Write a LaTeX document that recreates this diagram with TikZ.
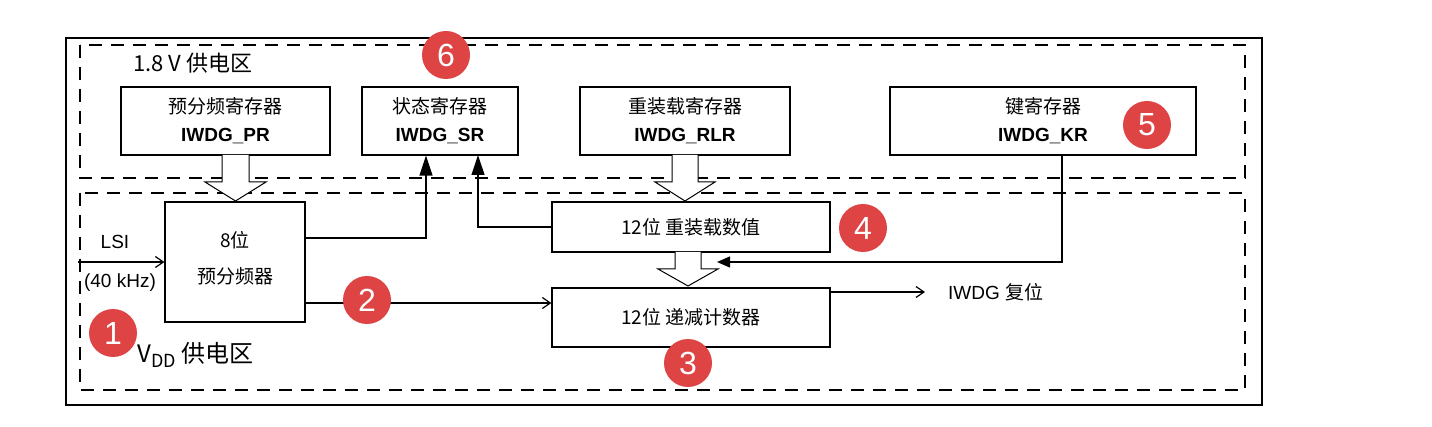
\documentclass[tikz,border=0pt]{standalone}
\usepackage{fontspec}
\setmainfont{Liberation Sans}
\newfontfamily\cjk{Noto Sans CJK SC}
\usetikzlibrary{arrows.meta}
\definecolor{badge}{RGB}{222,68,68}
\begin{document}
\begin{tikzpicture}[x=1pt,y=-1pt,
  box/.style={draw,line width=1.2pt,inner sep=0pt},
  dsh/.style={draw,line width=1.3pt,dash pattern=on 13pt off 9pt},
  lbl/.style={font=\fontsize{19}{21}\selectfont\cjk,align=center,inner sep=0pt},
  bl/.style={lbl,font=\fontsize{19}{21}\selectfont\bfseries},
  num/.style={circle,fill=badge,minimum size=48pt,inner sep=0pt,text=white,font=\fontsize{32}{32}\selectfont},
  hol/.style={draw,line width=1pt,fill=white},
  con/.style={line width=1.2pt},
  fa/.style={-{Triangle[length=20pt,width=13pt]}},
  oa/.style={-{Straight Barb[length=8pt,width=11pt]}}]
\useasboundingbox (0,0) rectangle (1432,427);
\draw[line width=1.2pt] (66,38) rectangle (1262,405);
\draw[dsh] (80,45) rectangle (1245,178);
\draw[dsh] (80,193) rectangle (1245,390);
\node[lbl,anchor=west,font=\fontsize{22}{24}\selectfont\cjk] (t18) at (133,63) {1.8 V 供电区};
\node[lbl,anchor=west] (tvdd) at (137,355) {\fontsize{24}{24}\selectfont V\raisebox{-5pt}{\fontsize{18}{18}\selectfont DD} 供电区};
% top boxes
\node[box,minimum width=209pt,minimum height=68pt] (pr) at (225.5,121) {};
\node[lbl] at (225.5,106) {预分频寄存器};
\node[bl] at (225.5,136) {IWDG\_PR};
\node[box,minimum width=156pt,minimum height=68pt] (sr) at (440,121) {};
\node[lbl] at (440,106) {状态寄存器};
\node[bl] at (440,136) {IWDG\_SR};
\node[box,minimum width=210pt,minimum height=68pt] (rlr) at (685,121) {};
\node[lbl] at (685,106) {重装载寄存器};
\node[bl] at (685,136) {IWDG\_RLR};
\node[box,minimum width=306pt,minimum height=68pt] (kr) at (1043,121) {};
\node[lbl] at (1043,106) {键寄存器};
\node[bl] at (1043,136) {IWDG\_KR};
% bottom boxes
\node[box,minimum width=140pt,minimum height=120pt] (ps) at (235,262) {};
\node[lbl] at (235,240) {8位};
\node[lbl] at (235,276) {预分频器};
\node[box,minimum width=278pt,minimum height=50pt,lbl] (rl) at (691,227) {12位 重装载数值};
\node[box,minimum width=278pt,minimum height=59pt,lbl] (cnt) at (691,317.5) {12位 递减计数器};
% hollow arrows
\draw[hol] (222,155)--(222,182)--(205,182)--(235.5,201)--(266,182)--(249,182)--(249,155);
\draw[hol] (672,155)--(672,182)--(655,182)--(685,201)--(715,182)--(698,182)--(698,155);
\draw[hol] (675,252)--(675,269)--(658,269)--(688,286)--(718,269)--(701,269)--(701,252);
% connectors
\coordinate (lsi) at (78,262);
\draw[con,oa] (lsi) -- (ps.west);
\node[lbl,font=\fontsize{19}{21}\selectfont] (lsit) at (115,242) {LSI};
\node[lbl,font=\fontsize{19}{21}\selectfont] (khz) at (120,283) {(40 kHz)};
\draw[con,fa] (305,238) -| (sr.south -| 426,0);
\draw[con,fa] (rl.west) -| (478,155);
\draw[con,oa] (305,303) -- (cnt.west |- 0,303);
\draw[con,-{Triangle[length=13pt,width=11pt]}] (kr.south -| 1062,0) |- (717,262);
\coordinate (rst) at (925,292);
\draw[con,oa] (cnt.east |- 0,292) -- (rst);
\node[lbl,anchor=west,font=\fontsize{19}{21}\selectfont] (rstt) at (948,292) {IWDG {\cjk 复位}};
% badges
\foreach \n/\x/\y in {1/113/333,2/367/300,3/688/363,4/863/228,5/1147/125,6/446/55}
  \node[num] (b\n) at (\x,\y) {\n};
\end{tikzpicture}
\end{document}
